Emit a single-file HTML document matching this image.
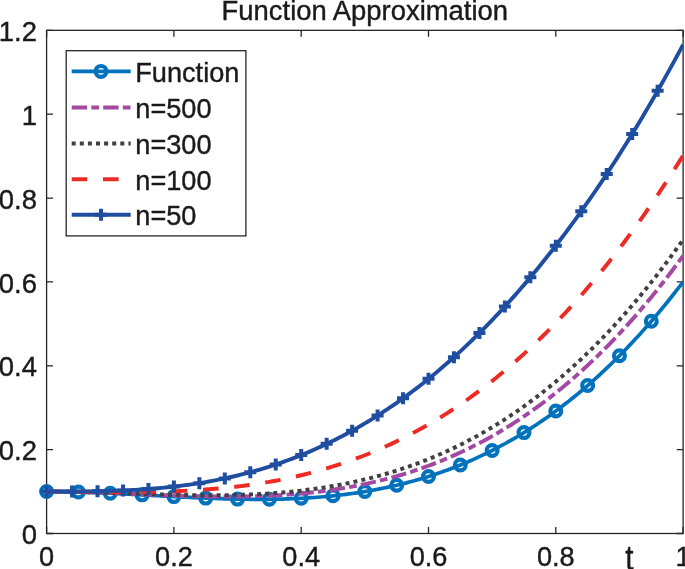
<!DOCTYPE html>
<html><head><meta charset="utf-8"><title>Function Approximation</title>
<style>html,body{margin:0;padding:0;background:#fff}body{width:685px;height:569px;overflow:hidden;font-family:"Liberation Sans",Arial,sans-serif}svg{display:block}</style>
</head><body>
<svg width="685" height="569" viewBox="0 0 685 569" font-family="Liberation Sans, Arial, Helvetica, sans-serif" font-size="27.7" fill="#1a1a1a" stroke="#1a1a1a" stroke-width="0">
<rect width="685" height="569" fill="#fff"/>
<defs><clipPath id="c"><rect x="36.6" y="30.35" width="647.3" height="503.15"/></clipPath></defs>
<path d="M46.60,533.5v-6.4M46.60,30.35v6.4M173.90,533.5v-6.4M173.90,30.35v6.4M301.20,533.5v-6.4M301.20,30.35v6.4M428.50,533.5v-6.4M428.50,30.35v6.4M555.80,533.5v-6.4M555.80,30.35v6.4M683.10,533.5v-6.4M683.10,30.35v6.4M46.6,533.50h6.4M683.1,533.50h-6.4M46.6,449.64h6.4M683.1,449.64h-6.4M46.6,365.78h6.4M683.1,365.78h-6.4M46.6,281.92h6.4M683.1,281.92h-6.4M46.6,198.07h6.4M683.1,198.07h-6.4M46.6,114.21h6.4M683.1,114.21h-6.4M46.6,30.35h6.4M683.1,30.35h-6.4" stroke="#262626" stroke-width="1.3" fill="none"/>
<rect x="46.6" y="30.35" width="636.5" height="503.15" fill="none" stroke="#262626" stroke-width="1.3"/>
<g fill="none" stroke-linejoin="round">
<g clip-path="url(#c)">
<path d="M46.60,491.57 L49.78,491.58 L52.97,491.59 L56.15,491.62 L59.33,491.65 L62.51,491.70 L65.69,491.75 L68.88,491.81 L72.06,491.88 L75.24,491.96 L78.43,492.04 L81.61,492.14 L84.79,492.23 L87.97,492.34 L91.16,492.45 L94.34,492.57 L97.52,492.70 L100.70,492.83 L103.88,492.96 L107.07,493.10 L110.25,493.25 L113.43,493.40 L116.62,493.55 L119.80,493.71 L122.98,493.87 L126.16,494.03 L129.34,494.19 L132.53,494.36 L135.71,494.53 L138.89,494.70 L142.07,494.87 L145.26,495.05 L148.44,495.22 L151.62,495.39 L154.81,495.57 L157.99,495.74 L161.17,495.92 L164.35,496.09 L167.53,496.26 L170.72,496.43 L173.90,496.60 L177.08,496.77 L180.26,496.93 L183.45,497.09 L186.63,497.25 L189.81,497.41 L193.00,497.56 L196.18,497.71 L199.36,497.85 L202.54,497.99 L205.72,498.12 L208.91,498.25 L212.09,498.37 L215.27,498.49 L218.46,498.60 L221.64,498.71 L224.82,498.80 L228.00,498.89 L231.18,498.98 L234.37,499.05 L237.55,499.12 L240.73,499.18 L243.91,499.23 L247.10,499.27 L250.28,499.30 L253.46,499.32 L256.65,499.33 L259.83,499.33 L263.01,499.33 L266.19,499.31 L269.38,499.28 L272.56,499.23 L275.74,499.18 L278.92,499.11 L282.11,499.03 L285.29,498.94 L288.47,498.84 L291.65,498.72 L294.84,498.59 L298.02,498.44 L301.20,498.28 L304.38,498.10 L307.57,497.91 L310.75,497.71 L313.93,497.49 L317.11,497.25 L320.30,497.00 L323.48,496.73 L326.66,496.44 L329.84,496.14 L333.03,495.82 L336.21,495.48 L339.39,495.12 L342.57,494.74 L345.76,494.35 L348.94,493.94 L352.12,493.50 L355.30,493.05 L358.49,492.58 L361.67,492.08 L364.85,491.57 L368.03,491.04 L371.22,490.48 L374.40,489.90 L377.58,489.30 L380.76,488.68 L383.95,488.04 L387.13,487.37 L390.31,486.68 L393.49,485.97 L396.68,485.23 L399.86,484.47 L403.04,483.68 L406.22,482.87 L409.41,482.03 L412.59,481.17 L415.77,480.29 L418.95,479.37 L422.13,478.43 L425.32,477.47 L428.50,476.48 L431.68,475.46 L434.87,474.41 L438.05,473.33 L441.23,472.23 L444.41,471.10 L447.60,469.94 L450.78,468.75 L453.96,467.53 L457.14,466.28 L460.33,465.00 L463.51,463.69 L466.69,462.35 L469.87,460.98 L473.06,459.57 L476.24,458.14 L479.42,456.67 L482.60,455.17 L485.79,453.64 L488.97,452.08 L492.15,450.48 L495.33,448.85 L498.51,447.18 L501.70,445.49 L504.88,443.75 L508.06,441.98 L511.25,440.18 L514.43,438.34 L517.61,436.47 L520.79,434.56 L523.98,432.61 L527.16,430.62 L530.34,428.60 L533.52,426.55 L536.71,424.45 L539.89,422.32 L543.07,420.14 L546.25,417.93 L549.44,415.68 L552.62,413.40 L555.80,411.07 L558.98,408.70 L562.17,406.29 L565.35,403.84 L568.53,401.35 L571.71,398.82 L574.90,396.25 L578.08,393.64 L581.26,390.98 L584.44,388.28 L587.62,385.54 L590.81,382.76 L593.99,379.93 L597.17,377.06 L600.36,374.15 L603.54,371.19 L606.72,368.19 L609.90,365.14 L613.09,362.04 L616.27,358.90 L619.45,355.72 L622.63,352.49 L625.82,349.21 L629.00,345.89 L632.18,342.52 L635.36,339.10 L638.55,335.63 L641.73,332.12 L644.91,328.56 L648.09,324.95 L651.28,321.29 L654.46,317.58 L657.64,313.82 L660.82,310.01 L664.00,306.15 L667.19,302.24 L670.37,298.28 L673.55,294.27 L676.74,290.21 L679.92,286.09 L683.10,281.93" stroke="#0072BD" stroke-width="3.7"/>
</g>
<circle cx="46.60" cy="491.57" r="5.4" stroke="#0072BD" stroke-width="4.2"/>
<circle cx="78.43" cy="492.04" r="5.4" stroke="#0072BD" stroke-width="4.2"/>
<circle cx="110.25" cy="493.25" r="5.4" stroke="#0072BD" stroke-width="4.2"/>
<circle cx="142.08" cy="494.87" r="5.4" stroke="#0072BD" stroke-width="4.2"/>
<circle cx="173.90" cy="496.60" r="5.4" stroke="#0072BD" stroke-width="4.2"/>
<circle cx="205.72" cy="498.12" r="5.4" stroke="#0072BD" stroke-width="4.2"/>
<circle cx="237.55" cy="499.12" r="5.4" stroke="#0072BD" stroke-width="4.2"/>
<circle cx="269.38" cy="499.28" r="5.4" stroke="#0072BD" stroke-width="4.2"/>
<circle cx="301.20" cy="498.28" r="5.4" stroke="#0072BD" stroke-width="4.2"/>
<circle cx="333.03" cy="495.82" r="5.4" stroke="#0072BD" stroke-width="4.2"/>
<circle cx="364.85" cy="491.57" r="5.4" stroke="#0072BD" stroke-width="4.2"/>
<circle cx="396.68" cy="485.23" r="5.4" stroke="#0072BD" stroke-width="4.2"/>
<circle cx="428.50" cy="476.48" r="5.4" stroke="#0072BD" stroke-width="4.2"/>
<circle cx="460.33" cy="465.00" r="5.4" stroke="#0072BD" stroke-width="4.2"/>
<circle cx="492.15" cy="450.48" r="5.4" stroke="#0072BD" stroke-width="4.2"/>
<circle cx="523.98" cy="432.61" r="5.4" stroke="#0072BD" stroke-width="4.2"/>
<circle cx="555.80" cy="411.07" r="5.4" stroke="#0072BD" stroke-width="4.2"/>
<circle cx="587.63" cy="385.54" r="5.4" stroke="#0072BD" stroke-width="4.2"/>
<circle cx="619.45" cy="355.72" r="5.4" stroke="#0072BD" stroke-width="4.2"/>
<circle cx="651.28" cy="321.29" r="5.4" stroke="#0072BD" stroke-width="4.2"/>
<g clip-path="url(#c)">
<path d="M46.60,491.57 L49.78,491.58 L52.97,491.59 L56.15,491.61 L59.33,491.64 L62.51,491.68 L65.69,491.73 L68.88,491.78 L72.06,491.84 L75.24,491.91 L78.43,491.98 L81.61,492.06 L84.79,492.15 L87.97,492.24 L91.16,492.33 L94.34,492.43 L97.52,492.54 L100.70,492.65 L103.88,492.76 L107.07,492.88 L110.25,492.99 L113.43,493.12 L116.62,493.24 L119.80,493.37 L122.98,493.49 L126.16,493.62 L129.34,493.75 L132.53,493.88 L135.71,494.01 L138.89,494.14 L142.07,494.28 L145.26,494.41 L148.44,494.54 L151.62,494.66 L154.81,494.79 L157.99,494.92 L161.17,495.04 L164.35,495.16 L167.53,495.28 L170.72,495.39 L173.90,495.50 L177.08,495.61 L180.26,495.71 L183.45,495.81 L186.63,495.91 L189.81,496.00 L193.00,496.08 L196.18,496.16 L199.36,496.23 L202.54,496.30 L205.72,496.36 L208.91,496.41 L212.09,496.45 L215.27,496.49 L218.46,496.52 L221.64,496.54 L224.82,496.56 L228.00,496.56 L231.18,496.56 L234.37,496.54 L237.55,496.52 L240.73,496.48 L243.91,496.44 L247.10,496.39 L250.28,496.32 L253.46,496.24 L256.65,496.15 L259.83,496.05 L263.01,495.94 L266.19,495.82 L269.38,495.68 L272.56,495.53 L275.74,495.36 L278.92,495.19 L282.11,494.99 L285.29,494.79 L288.47,494.57 L291.65,494.33 L294.84,494.08 L298.02,493.81 L301.20,493.53 L304.38,493.23 L307.57,492.91 L310.75,492.58 L313.93,492.23 L317.11,491.87 L320.30,491.48 L323.48,491.08 L326.66,490.66 L329.84,490.22 L333.03,489.76 L336.21,489.28 L339.39,488.79 L342.57,488.27 L345.76,487.73 L348.94,487.18 L352.12,486.60 L355.30,486.00 L358.49,485.38 L361.67,484.74 L364.85,484.07 L368.03,483.39 L371.22,482.68 L374.40,481.95 L377.58,481.20 L380.76,480.42 L383.95,479.62 L387.13,478.79 L390.31,477.94 L393.49,477.07 L396.68,476.17 L399.86,475.24 L403.04,474.29 L406.22,473.32 L409.41,472.32 L412.59,471.29 L415.77,470.23 L418.95,469.15 L422.13,468.04 L425.32,466.90 L428.50,465.74 L431.68,464.55 L434.87,463.33 L438.05,462.08 L441.23,460.80 L444.41,459.49 L447.60,458.15 L450.78,456.78 L453.96,455.38 L457.14,453.95 L460.33,452.49 L463.51,451.00 L466.69,449.48 L469.87,447.93 L473.06,446.34 L476.24,444.72 L479.42,443.07 L482.60,441.39 L485.79,439.67 L488.97,437.92 L492.15,436.13 L495.33,434.31 L498.51,432.46 L501.70,430.57 L504.88,428.65 L508.06,426.69 L511.25,424.70 L514.43,422.67 L517.61,420.60 L520.79,418.50 L523.98,416.36 L527.16,414.18 L530.34,411.97 L533.52,409.71 L536.71,407.42 L539.89,405.10 L543.07,402.73 L546.25,400.32 L549.44,397.88 L552.62,395.39 L555.80,392.87 L558.98,390.31 L562.17,387.70 L565.35,385.06 L568.53,382.37 L571.71,379.64 L574.90,376.87 L578.08,374.06 L581.26,371.21 L584.44,368.31 L587.62,365.37 L590.81,362.39 L593.99,359.37 L597.17,356.30 L600.36,353.19 L603.54,350.03 L606.72,346.83 L609.90,343.58 L613.09,340.29 L616.27,336.95 L619.45,333.57 L622.63,330.14 L625.82,326.66 L629.00,323.14 L632.18,319.57 L635.36,315.96 L638.55,312.29 L641.73,308.58 L644.91,304.82 L648.09,301.01 L651.28,297.16 L654.46,293.25 L657.64,289.29 L660.82,285.29 L664.00,281.23 L667.19,277.13 L670.37,272.97 L673.55,268.76 L676.74,264.50 L679.92,260.19 L683.10,255.83" stroke="#A349A4" stroke-width="3.95" stroke-dasharray="15.4 4.2 7.7 4.2"/>
<path d="M46.60,491.57 L49.78,491.58 L52.97,491.59 L56.15,491.61 L59.33,491.64 L62.51,491.67 L65.69,491.71 L68.88,491.76 L72.06,491.82 L75.24,491.88 L78.43,491.95 L81.61,492.02 L84.79,492.09 L87.97,492.17 L91.16,492.26 L94.34,492.35 L97.52,492.44 L100.70,492.54 L103.88,492.63 L107.07,492.73 L110.25,492.84 L113.43,492.94 L116.62,493.05 L119.80,493.15 L122.98,493.26 L126.16,493.37 L129.34,493.48 L132.53,493.59 L135.71,493.69 L138.89,493.80 L142.07,493.91 L145.26,494.01 L148.44,494.11 L151.62,494.21 L154.81,494.31 L157.99,494.40 L161.17,494.50 L164.35,494.58 L167.53,494.67 L170.72,494.75 L173.90,494.82 L177.08,494.89 L180.26,494.96 L183.45,495.02 L186.63,495.08 L189.81,495.12 L193.00,495.17 L196.18,495.20 L199.36,495.23 L202.54,495.25 L205.72,495.26 L208.91,495.27 L212.09,495.27 L215.27,495.26 L218.46,495.24 L221.64,495.21 L224.82,495.17 L228.00,495.12 L231.18,495.06 L234.37,494.99 L237.55,494.91 L240.73,494.82 L243.91,494.72 L247.10,494.60 L250.28,494.48 L253.46,494.34 L256.65,494.19 L259.83,494.03 L263.01,493.85 L266.19,493.66 L269.38,493.46 L272.56,493.24 L275.74,493.01 L278.92,492.76 L282.11,492.50 L285.29,492.22 L288.47,491.93 L291.65,491.62 L294.84,491.29 L298.02,490.95 L301.20,490.59 L304.38,490.22 L307.57,489.82 L310.75,489.41 L313.93,488.98 L317.11,488.54 L320.30,488.07 L323.48,487.59 L326.66,487.08 L329.84,486.56 L333.03,486.02 L336.21,485.46 L339.39,484.87 L342.57,484.27 L345.76,483.64 L348.94,483.00 L352.12,482.33 L355.30,481.64 L358.49,480.93 L361.67,480.20 L364.85,479.44 L368.03,478.66 L371.22,477.86 L374.40,477.03 L377.58,476.18 L380.76,475.31 L383.95,474.41 L387.13,473.49 L390.31,472.54 L393.49,471.57 L396.68,470.57 L399.86,469.54 L403.04,468.49 L406.22,467.41 L409.41,466.31 L412.59,465.18 L415.77,464.02 L418.95,462.83 L422.13,461.62 L425.32,460.37 L428.50,459.10 L431.68,457.80 L434.87,456.47 L438.05,455.12 L441.23,453.73 L444.41,452.31 L447.60,450.86 L450.78,449.39 L453.96,447.88 L457.14,446.34 L460.33,444.76 L463.51,443.16 L466.69,441.53 L469.87,439.86 L473.06,438.16 L476.24,436.43 L479.42,434.66 L482.60,432.86 L485.79,431.03 L488.97,429.16 L492.15,427.26 L495.33,425.33 L498.51,423.36 L501.70,421.35 L504.88,419.31 L508.06,417.24 L511.25,415.12 L514.43,412.98 L517.61,410.79 L520.79,408.57 L523.98,406.31 L527.16,404.01 L530.34,401.68 L533.52,399.31 L536.71,396.90 L539.89,394.45 L543.07,391.96 L546.25,389.44 L549.44,386.87 L552.62,384.27 L555.80,381.62 L558.98,378.94 L562.17,376.21 L565.35,373.44 L568.53,370.63 L571.71,367.78 L574.90,364.89 L578.08,361.96 L581.26,358.98 L584.44,355.97 L587.62,352.91 L590.81,349.80 L593.99,346.65 L597.17,343.46 L600.36,340.23 L603.54,336.95 L606.72,333.62 L609.90,330.26 L613.09,326.84 L616.27,323.38 L619.45,319.88 L622.63,316.32 L625.82,312.73 L629.00,309.08 L632.18,305.39 L635.36,301.65 L638.55,297.87 L641.73,294.03 L644.91,290.15 L648.09,286.22 L651.28,282.24 L654.46,278.21 L657.64,274.13 L660.82,270.00 L664.00,265.83 L667.19,261.60 L670.37,257.32 L673.55,252.99 L676.74,248.61 L679.92,244.18 L683.10,239.70" stroke="#404040" stroke-width="3.95" stroke-dasharray="4 4.1"/>
<path d="M46.60,491.57 L49.78,491.57 L52.97,491.58 L56.15,491.59 L59.33,491.61 L62.51,491.62 L65.69,491.65 L68.88,491.67 L72.06,491.69 L75.24,491.72 L78.43,491.75 L81.61,491.78 L84.79,491.81 L87.97,491.84 L91.16,491.87 L94.34,491.90 L97.52,491.93 L100.70,491.95 L103.88,491.98 L107.07,492.00 L110.25,492.02 L113.43,492.03 L116.62,492.05 L119.80,492.05 L122.98,492.06 L126.16,492.06 L129.34,492.06 L132.53,492.05 L135.71,492.03 L138.89,492.01 L142.07,491.98 L145.26,491.95 L148.44,491.90 L151.62,491.86 L154.81,491.80 L157.99,491.73 L161.17,491.66 L164.35,491.58 L167.53,491.49 L170.72,491.39 L173.90,491.28 L177.08,491.16 L180.26,491.03 L183.45,490.88 L186.63,490.73 L189.81,490.57 L193.00,490.39 L196.18,490.20 L199.36,490.00 L202.54,489.79 L205.72,489.56 L208.91,489.33 L212.09,489.07 L215.27,488.81 L218.46,488.52 L221.64,488.23 L224.82,487.92 L228.00,487.59 L231.18,487.25 L234.37,486.90 L237.55,486.52 L240.73,486.13 L243.91,485.73 L247.10,485.31 L250.28,484.87 L253.46,484.41 L256.65,483.93 L259.83,483.44 L263.01,482.93 L266.19,482.40 L269.38,481.85 L272.56,481.28 L275.74,480.69 L278.92,480.09 L282.11,479.46 L285.29,478.81 L288.47,478.14 L291.65,477.45 L294.84,476.74 L298.02,476.01 L301.20,475.26 L304.38,474.48 L307.57,473.69 L310.75,472.87 L313.93,472.02 L317.11,471.16 L320.30,470.27 L323.48,469.36 L326.66,468.42 L329.84,467.46 L333.03,466.48 L336.21,465.47 L339.39,464.44 L342.57,463.38 L345.76,462.29 L348.94,461.19 L352.12,460.05 L355.30,458.89 L358.49,457.70 L361.67,456.49 L364.85,455.25 L368.03,453.98 L371.22,452.69 L374.40,451.37 L377.58,450.02 L380.76,448.64 L383.95,447.23 L387.13,445.80 L390.31,444.34 L393.49,442.84 L396.68,441.32 L399.86,439.77 L403.04,438.19 L406.22,436.58 L409.41,434.94 L412.59,433.27 L415.77,431.57 L418.95,429.84 L422.13,428.07 L425.32,426.28 L428.50,424.45 L431.68,422.60 L434.87,420.71 L438.05,418.79 L441.23,416.83 L444.41,414.84 L447.60,412.82 L450.78,410.77 L453.96,408.68 L457.14,406.56 L460.33,404.41 L463.51,402.22 L466.69,400.00 L469.87,397.74 L473.06,395.45 L476.24,393.12 L479.42,390.76 L482.60,388.37 L485.79,385.93 L488.97,383.46 L492.15,380.96 L495.33,378.42 L498.51,375.84 L501.70,373.22 L504.88,370.57 L508.06,367.88 L511.25,365.15 L514.43,362.39 L517.61,359.58 L520.79,356.74 L523.98,353.86 L527.16,350.94 L530.34,347.99 L533.52,344.99 L536.71,341.95 L539.89,338.88 L543.07,335.76 L546.25,332.61 L549.44,329.41 L552.62,326.17 L555.80,322.89 L558.98,319.58 L562.17,316.22 L565.35,312.81 L568.53,309.37 L571.71,305.88 L574.90,302.36 L578.08,298.79 L581.26,295.17 L584.44,291.52 L587.62,287.82 L590.81,284.07 L593.99,280.29 L597.17,276.46 L600.36,272.58 L603.54,268.66 L606.72,264.70 L609.90,260.69 L613.09,256.63 L616.27,252.53 L619.45,248.39 L622.63,244.20 L625.82,239.96 L629.00,235.67 L632.18,231.34 L635.36,226.97 L638.55,222.54 L641.73,218.07 L644.91,213.55 L648.09,208.98 L651.28,204.36 L654.46,199.70 L657.64,194.98 L660.82,190.22 L664.00,185.41 L667.19,180.54 L670.37,175.63 L673.55,170.67 L676.74,165.66 L679.92,160.59 L683.10,155.48" stroke="#EE2A24" stroke-width="3.95" stroke-dasharray="15.6 15.7"/>
<path d="M46.60,491.57 L49.78,491.57 L52.97,491.57 L56.15,491.57 L59.33,491.57 L62.51,491.56 L65.69,491.56 L68.88,491.55 L72.06,491.53 L75.24,491.52 L78.43,491.49 L81.61,491.47 L84.79,491.44 L87.97,491.40 L91.16,491.36 L94.34,491.31 L97.52,491.25 L100.70,491.18 L103.88,491.11 L107.07,491.03 L110.25,490.94 L113.43,490.84 L116.62,490.73 L119.80,490.61 L122.98,490.48 L126.16,490.34 L129.34,490.18 L132.53,490.02 L135.71,489.84 L138.89,489.65 L142.07,489.45 L145.26,489.23 L148.44,489.00 L151.62,488.75 L154.81,488.50 L157.99,488.22 L161.17,487.93 L164.35,487.63 L167.53,487.30 L170.72,486.97 L173.90,486.61 L177.08,486.24 L180.26,485.85 L183.45,485.44 L186.63,485.02 L189.81,484.57 L193.00,484.11 L196.18,483.63 L199.36,483.13 L202.54,482.61 L205.72,482.07 L208.91,481.51 L212.09,480.92 L215.27,480.32 L218.46,479.70 L221.64,479.05 L224.82,478.38 L228.00,477.69 L231.18,476.98 L234.37,476.25 L237.55,475.49 L240.73,474.71 L243.91,473.90 L247.10,473.07 L250.28,472.22 L253.46,471.34 L256.65,470.44 L259.83,469.51 L263.01,468.56 L266.19,467.58 L269.38,466.58 L272.56,465.55 L275.74,464.50 L278.92,463.42 L282.11,462.31 L285.29,461.17 L288.47,460.01 L291.65,458.82 L294.84,457.61 L298.02,456.36 L301.20,455.09 L304.38,453.79 L307.57,452.46 L310.75,451.10 L313.93,449.71 L317.11,448.30 L320.30,446.85 L323.48,445.38 L326.66,443.87 L329.84,442.34 L333.03,440.77 L336.21,439.18 L339.39,437.55 L342.57,435.90 L345.76,434.21 L348.94,432.49 L352.12,430.74 L355.30,428.96 L358.49,427.15 L361.67,425.30 L364.85,423.43 L368.03,421.52 L371.22,419.57 L374.40,417.60 L377.58,415.59 L380.76,413.55 L383.95,411.48 L387.13,409.37 L390.31,407.23 L393.49,405.06 L396.68,402.85 L399.86,400.61 L403.04,398.33 L406.22,396.02 L409.41,393.68 L412.59,391.30 L415.77,388.89 L418.95,386.44 L422.13,383.95 L425.32,381.43 L428.50,378.87 L431.68,376.28 L434.87,373.66 L438.05,370.99 L441.23,368.29 L444.41,365.56 L447.60,362.78 L450.78,359.98 L453.96,357.13 L457.14,354.25 L460.33,351.33 L463.51,348.37 L466.69,345.37 L469.87,342.34 L473.06,339.27 L476.24,336.16 L479.42,333.01 L482.60,329.83 L485.79,326.61 L488.97,323.34 L492.15,320.04 L495.33,316.70 L498.51,313.32 L501.70,309.91 L504.88,306.45 L508.06,302.95 L511.25,299.42 L514.43,295.84 L517.61,292.22 L520.79,288.57 L523.98,284.87 L527.16,281.13 L530.34,277.35 L533.52,273.53 L536.71,269.67 L539.89,265.77 L543.07,261.83 L546.25,257.84 L549.44,253.82 L552.62,249.75 L555.80,245.64 L558.98,241.49 L562.17,237.29 L565.35,233.06 L568.53,228.78 L571.71,224.45 L574.90,220.09 L578.08,215.68 L581.26,211.23 L584.44,206.73 L587.62,202.19 L590.81,197.61 L593.99,192.98 L597.17,188.31 L600.36,183.59 L603.54,178.83 L606.72,174.02 L609.90,169.17 L613.09,164.28 L616.27,159.34 L619.45,154.35 L622.63,149.31 L625.82,144.23 L629.00,139.11 L632.18,133.94 L635.36,128.72 L638.55,123.45 L641.73,118.14 L644.91,112.78 L648.09,107.37 L651.28,101.92 L654.46,96.41 L657.64,90.86 L660.82,85.26 L664.00,79.61 L667.19,73.92 L670.37,68.17 L673.55,62.37 L676.74,56.53 L679.92,50.63 L683.10,44.69" stroke="#1F4EA1" stroke-width="3.9000000000000004"/>
</g>
<path d="M40.60,491.57h12M46.60,485.57v12M66.06,491.53h12M72.06,485.53v12M91.52,491.25h12M97.52,485.25v12M116.98,490.48h12M122.98,484.48v12M142.44,489.00h12M148.44,483.00v12M167.90,486.61h12M173.90,480.61v12M193.36,483.13h12M199.36,477.13v12M218.82,478.38h12M224.82,472.38v12M244.28,472.22h12M250.28,466.22v12M269.74,464.50h12M275.74,458.50v12M295.20,455.09h12M301.20,449.09v12M320.66,443.87h12M326.66,437.87v12M346.12,430.74h12M352.12,424.74v12M371.58,415.59h12M377.58,409.59v12M397.04,398.33h12M403.04,392.33v12M422.50,378.87h12M428.50,372.87v12M447.96,357.13h12M453.96,351.13v12M473.42,333.01h12M479.42,327.01v12M498.88,306.45h12M504.88,300.45v12M524.34,277.35h12M530.34,271.35v12M549.80,245.64h12M555.80,239.64v12M575.26,211.23h12M581.26,205.23v12M600.72,174.02h12M606.72,168.02v12M626.18,133.94h12M632.18,127.94v12M651.64,90.86h12M657.64,84.86v12" stroke="#1F4EA1" stroke-width="4"/>
</g>
<text transform="translate(46.60,566.30) scale(0.98,1)" text-anchor="middle" stroke-width="0.4" >0</text>
<text transform="translate(173.90,566.30) scale(0.98,1)" text-anchor="middle" stroke-width="0.4" >0.2</text>
<text transform="translate(301.20,566.30) scale(0.98,1)" text-anchor="middle" stroke-width="0.4" >0.4</text>
<text transform="translate(428.50,566.30) scale(0.98,1)" text-anchor="middle" stroke-width="0.4" >0.6</text>
<text transform="translate(555.80,566.30) scale(0.98,1)" text-anchor="middle" stroke-width="0.4" >0.8</text>
<text transform="translate(683.10,566.30) scale(0.98,1)" text-anchor="middle" stroke-width="0.4" >1</text>
<text transform="translate(36.90,544.10) scale(0.99,1)" text-anchor="end" stroke-width="0.4" >0</text>
<text transform="translate(36.90,460.24) scale(0.99,1)" text-anchor="end" stroke-width="0.4" >0.2</text>
<text transform="translate(36.90,376.38) scale(0.99,1)" text-anchor="end" stroke-width="0.4" >0.4</text>
<text transform="translate(36.90,292.52) scale(0.99,1)" text-anchor="end" stroke-width="0.4" >0.6</text>
<text transform="translate(36.90,208.67) scale(0.99,1)" text-anchor="end" stroke-width="0.4" >0.8</text>
<text transform="translate(36.90,124.81) scale(0.99,1)" text-anchor="end" stroke-width="0.4" >1</text>
<text transform="translate(36.90,40.95) scale(0.99,1)" text-anchor="end" stroke-width="0.4" >1.2</text>
<text transform="translate(629.3,570) scale(0.86,1)" text-anchor="middle" font-size="34.5" stroke-width="0.4">t</text>
<text transform="translate(364.80,20.00) scale(0.99,1)" text-anchor="middle" stroke-width="0.4" >Function Approximation</text>
<rect x="66.2" y="50.7" width="179.7" height="185.2" fill="#fff" stroke="#262626" stroke-width="1.3"/>
<g fill="none">
<path d="M71.7,71.4H130.7" stroke="#0072BD" stroke-width="3.7"/>
<circle cx="101" cy="71.4" r="5.4" stroke="#0072BD" stroke-width="4.2"/>
<path d="M71.7,107.5H130.7" stroke="#A349A4" stroke-width="3.95" stroke-dasharray="15.4 4.2 7.7 4.2"/>
<path d="M71.7,143.4H130.7" stroke="#404040" stroke-width="3.95" stroke-dasharray="4 4.1"/>
<path d="M71.7,179.3H130.7" stroke="#EE2A24" stroke-width="3.95" stroke-dasharray="15.6 15.7"/>
<path d="M71.7,214.8H130.7" stroke="#1F4EA1" stroke-width="3.9000000000000004"/>
<path d="M95,214.8h12M101,208.8v12" stroke="#1F4EA1" stroke-width="4"/>
</g>
<text transform="translate(135.30,82.00) scale(0.98,1)" text-anchor="start" stroke-width="0.4" >Function</text>
<text transform="translate(135.30,118.10) scale(0.98,1)" text-anchor="start" stroke-width="0.4" >n=500</text>
<text transform="translate(135.30,154.00) scale(0.98,1)" text-anchor="start" stroke-width="0.4" >n=300</text>
<text transform="translate(135.30,189.90) scale(0.98,1)" text-anchor="start" stroke-width="0.4" >n=100</text>
<text transform="translate(135.30,225.40) scale(0.98,1)" text-anchor="start" stroke-width="0.4" >n=50</text>
</svg>
</body></html>
